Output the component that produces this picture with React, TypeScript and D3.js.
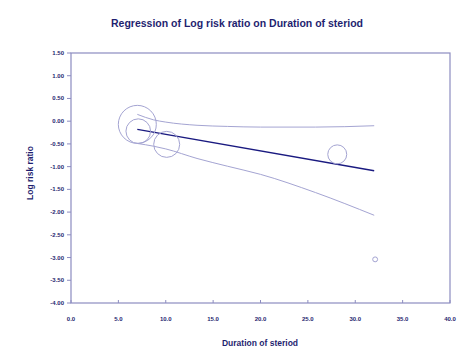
import React from "react";
import * as d3 from "d3";

const studyX = [7.0, 7.1, 10.1, 28.1, 32.1];
const studyY = [-0.07, -0.22, -0.51, -0.73, -3.04];
const studyWeight = [361, 152, 169, 90, 6];

const regX = [7, 32];
const regY = [-0.18, -1.09];

const ciX = [7, 8.7, 10, 13.3, 16.5, 20, 25.8, 32];
const ciUpper = [0.15, 0.03, -0.02, -0.09, -0.115, -0.13, -0.13, -0.1];
const ciLower = [-0.49, -0.55, -0.61, -0.82, -0.99, -1.17, -1.57, -2.07];

const xTicks = [0, 5, 10, 15, 20, 25, 30, 35, 40];
const yTicks = [1.5, 1, 0.5, 0, -0.5, -1, -1.5, -2, -2.5, -3, -3.5, -4];

const W = 474;
const H = 356;
const left = 71, right = 450, top = 53, bottom = 303;

export default function App() {
  const x = d3.scaleLinear().domain([0, 40]).range([left, right]);
  const y = d3.scaleLinear().domain([-4, 1.5]).range([bottom, top]);
  const r = d3.scaleSqrt().domain([0, 361]).range([0, 19]);
  const line = d3
    .line<[number, number]>()
    .x((d) => x(d[0]))
    .y((d) => y(d[1]))
    .curve(d3.curveMonotoneX);
  const textColor = "#1f1f70";
  const frame = "#8c8cc0";
  const light = "#a4a4d2";
  const font = "Liberation Sans, Arial, sans-serif";

  return (
    <svg
      width={W}
      height={H}
      style={{ position: "absolute", left: 0, top: 0, background: "#fff" }}
      fontFamily={font}
    >
      <text x={237} y={27} textAnchor="middle" fontSize={10.5} fontWeight="bold" fill={textColor}>
        Regression of Log risk ratio on Duration of steriod
      </text>
      <rect x={left} y={top} width={right - left} height={bottom - top} fill="none" stroke={frame} strokeWidth={1.2} />
      {yTicks.map((t) => (
        <g key={"y" + t}>
          <line x1={left - 4} x2={left} y1={y(t)} y2={y(t)} stroke={frame} />
          <text x={left - 7} y={y(t) + 2} textAnchor="end" fontSize={6} fontWeight="bold" fill={textColor}>
            {t.toFixed(2)}
          </text>
        </g>
      ))}
      {xTicks.map((t) => (
        <g key={"x" + t}>
          <line x1={x(t)} x2={x(t)} y1={bottom} y2={bottom - 3} stroke={frame} />
          <text x={x(t)} y={321} textAnchor="middle" fontSize={6} fontWeight="bold" fill={textColor}>
            {t.toFixed(1)}
          </text>
        </g>
      ))}
      <text x={260} y={346} textAnchor="middle" fontSize={8.5} fontWeight="bold" fill={textColor}>
        Duration of steriod
      </text>
      <text
        transform={`translate(33,173) rotate(-90)`}
        textAnchor="middle"
        fontSize={8.5}
        fontWeight="bold"
        fill={textColor}
      >
        Log risk ratio
      </text>
      <path d={line(ciX.map((v, i) => [v, ciUpper[i]]) as any) || ""} fill="none" stroke={light} strokeWidth={1} />
      <path d={line(ciX.map((v, i) => [v, ciLower[i]]) as any) || ""} fill="none" stroke={light} strokeWidth={1} />
      <path d={line(regX.map((v, i) => [v, regY[i]]) as any) || ""} fill="none" stroke="#1a1a80" strokeWidth={1.4} />
      {studyX.map((v, i) => (
        <circle key={i} cx={x(v)} cy={y(studyY[i])} r={r(studyWeight[i])} fill="none" stroke={light} strokeWidth={1} />
      ))}
    </svg>
  );
}
